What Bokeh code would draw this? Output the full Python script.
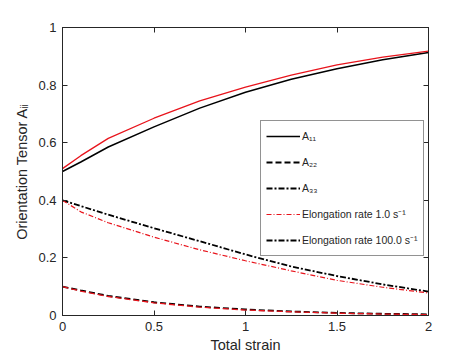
from bokeh.plotting import figure
from bokeh.models import (LinearAxis, FixedTicker, Legend, LegendItem, Range1d,
                          CustomJSTickFormatter)
from bokeh.embed import file_html
from bokeh.resources import INLINE

# ---------------- data ----------------
strain = [0, 0.1, 0.25, 0.5, 0.75, 1.0, 1.25, 1.5, 1.75, 2.0]
a11_rate100 = [0.500, 0.533, 0.585, 0.655, 0.720, 0.775, 0.820, 0.857, 0.888, 0.913]
a11_rate1 = [0.510, 0.555, 0.615, 0.685, 0.745, 0.793, 0.835, 0.870, 0.897, 0.918]
a22_rate100 = [0.100, 0.087, 0.068, 0.046, 0.031, 0.021, 0.014, 0.009, 0.006, 0.004]
a22_rate1 = [0.100, 0.085, 0.066, 0.044, 0.029, 0.019, 0.013, 0.008, 0.005, 0.003]
a33_rate100 = [0.400, 0.380, 0.350, 0.303, 0.258, 0.212, 0.170, 0.137, 0.108, 0.083]
a33_rate1 = [0.400, 0.360, 0.322, 0.272, 0.228, 0.190, 0.155, 0.122, 0.098, 0.078]

x_ticks = [0, 0.5, 1, 1.5, 2]
x_tick_labels = ["0", "0.5", "1", "1.5", "2"]
y_ticks = [0, 0.2, 0.4, 0.6, 0.8, 1]
y_tick_labels = ["0", "0.2", "0.4", "0.6", "0.8", "1"]

legend_labels = ["A\u2081\u2081", "A\u2082\u2082", "A\u2083\u2083",
                 "Elongation rate 1.0 s\u207b\u00b9", "Elongation rate 100.0 s\u207b\u00b9"]
x_label = "Total strain"
y_label = "Orientation Tensor A\u1d62\u1d62"

# ---------------- figure ----------------
FONT = "Liberation Sans"
AX = "#262626"
p = figure(width=474, height=355, x_range=Range1d(0, 2), y_range=Range1d(0, 1),
           output_backend="svg", toolbar_location=None,
           min_border_left=62, min_border_right=46, min_border_top=27, min_border_bottom=39)
p.background_fill_color = "white"
p.border_fill_color = "white"
p.outline_line_color = AX
p.outline_line_width = 1
p.xgrid.visible = False
p.ygrid.visible = False

def style_axis(ax, ticks, labels, show_labels=True):
    ax.ticker = FixedTicker(ticks=ticks)
    ax.axis_line_color = AX
    ax.major_tick_line_color = AX
    ax.major_tick_in = 5
    ax.major_tick_out = 0
    ax.minor_tick_line_color = None
    ax.major_label_text_font = FONT
    ax.major_label_text_font_size = "13px"
    ax.major_label_text_color = AX
    ax.major_label_standoff = 6
    if show_labels:
        ax.major_label_overrides = {t: l for t, l in zip(ticks, labels)}
    else:
        ax.formatter = CustomJSTickFormatter(code="return ''")
        ax.major_label_standoff = 0

def style_title(ax, text, standoff):
    ax.axis_label = text
    ax.axis_label_text_font = FONT
    ax.axis_label_text_font_size = "14.5px"
    ax.axis_label_text_font_style = "normal"
    ax.axis_label_text_color = AX
    ax.axis_label_standoff = standoff

style_axis(p.xaxis[0], x_ticks, x_tick_labels)
style_axis(p.yaxis[0], y_ticks, y_tick_labels)
style_title(p.xaxis[0], x_label, 3)
style_title(p.yaxis[0], y_label, 5)

top_ax = LinearAxis()
style_axis(top_ax, x_ticks, x_tick_labels, show_labels=False)
p.add_layout(top_ax, "above")
right_ax = LinearAxis()
style_axis(right_ax, y_ticks, y_tick_labels, show_labels=False)
p.add_layout(right_ax, "right")

# ---------------- curves ----------------
r11b = p.line(strain, a11_rate100, line_color="black", line_width=1.5)
r22b = p.line(strain, a22_rate100, line_color="black", line_width=1.8, line_dash="6 3")
r33b = p.line(strain, a33_rate100, line_color="black", line_width=1.8, line_dash="6 2 2 2")
r11r = p.line(strain, a11_rate1, line_color="#e8141c", line_width=1.3)
r22r = p.line(strain, a22_rate1, line_color="#e8141c", line_width=1.3, line_dash="6 3")
r33r = p.line(strain, a33_rate1, line_color="#e8141c", line_width=1.2, line_dash="5 2 1 2")

legend = Legend(items=[
    LegendItem(label=legend_labels[0], renderers=[r11b]),
    LegendItem(label=legend_labels[1], renderers=[r22b]),
    LegendItem(label=legend_labels[2], renderers=[r33b]),
    LegendItem(label=legend_labels[3], renderers=[r33r]),
    LegendItem(label=legend_labels[4], renderers=[r33b]),
], location=(198, 59))
legend.label_text_font = FONT
legend.label_text_font_size = "10.5px"
legend.label_text_color = AX
legend.glyph_width = 34
legend.label_standoff = 2
legend.padding = 5
legend.spacing = 6
legend.margin = 0
legend.border_line_color = AX
legend.border_line_width = 1
legend.background_fill_alpha = 1
p.add_layout(legend)

open("out.html", "w").write(file_html(p, INLINE))
